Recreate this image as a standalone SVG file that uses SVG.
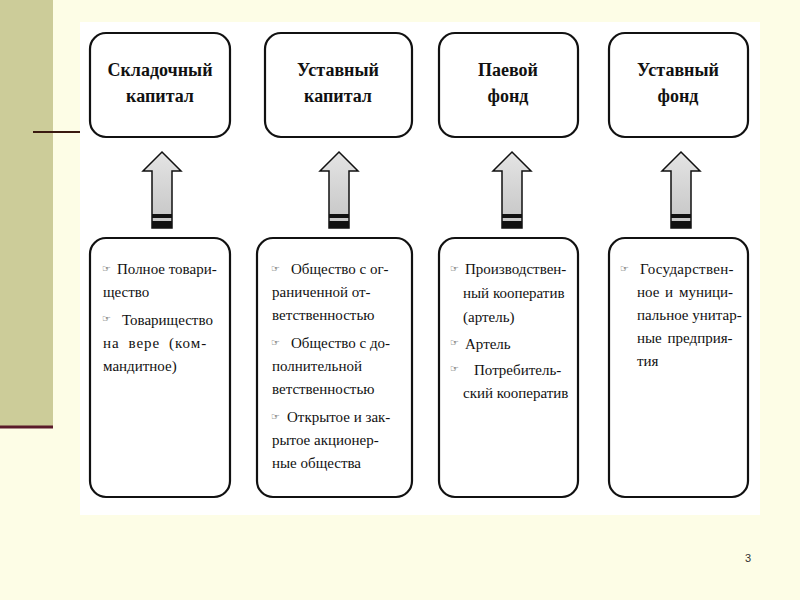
<svg xmlns="http://www.w3.org/2000/svg" width="800" height="600" viewBox="0 0 800 600">
<style>
.box{fill:#fff;stroke:#111;stroke-width:2.2}
.h{font-family:"Liberation Serif",serif;font-weight:bold;font-size:18px;text-anchor:middle;fill:#111}
.t{font-family:"Liberation Serif",serif;font-size:15px;fill:#111}
.b{font-family:"DejaVu Sans",sans-serif;font-size:10px;fill:#333}
.ar{fill:url(#g);stroke:#111;stroke-width:1.5}
</style>
<defs>
<linearGradient id="g" x1="0" y1="0" x2="0" y2="1"><stop offset="0" stop-color="#e4e4e4"/><stop offset="1" stop-color="#c4c4c4"/></linearGradient>
<g id="arrow">
<path class="ar" d="M0,0 L19,19 L10,19 L10,76 L-10,76 L-10,19 L-19,19 Z"/>
<rect x="-10" y="62" width="20" height="4" fill="#111"/>
<rect x="-10" y="69" width="20" height="7" fill="#111"/>
</g>
</defs>
<rect width="800" height="600" fill="#fdfde6"/>
<rect width="53" height="427" fill="#cccc99"/>
<line x1="0" y1="427" x2="53" y2="427" stroke="#5a1a2a" stroke-width="3"/>
<rect x="80" y="22" width="680" height="493" fill="#fff"/>
<line x1="33" y1="132" x2="80" y2="132" stroke="#3a1a10" stroke-width="2"/>
<g id="connectors">
<use href="#arrow" x="162" y="152"/>
<use href="#arrow" x="339" y="152"/>
<use href="#arrow" x="512" y="152"/>
<use href="#arrow" x="681" y="152"/>
</g>
<g id="top1"><rect class="box" x="90" y="33" width="140" height="104" rx="16"/><text class="h" x="160" y="76">Складочный</text><text class="h" x="160" y="102">капитал</text></g>
<g id="top2"><rect class="box" x="265" y="33" width="147" height="104" rx="16"/><text class="h" x="338" y="76">Уставный</text><text class="h" x="338" y="102">капитал</text></g>
<g id="top3"><rect class="box" x="439" y="33" width="139" height="104" rx="16"/><text class="h" x="508" y="76">Паевой</text><text class="h" x="508" y="102">фонд</text></g>
<g id="top4"><rect class="box" x="609" y="33" width="139" height="104" rx="16"/><text class="h" x="678" y="76">Уставный</text><text class="h" x="678" y="102">фонд</text></g>
<g id="bot1"><rect class="box" x="90" y="238" width="140" height="259" rx="16"/>
<text class="b" x="102" y="272">☞</text><text class="t" x="117" y="274">Полное товари-</text>
<text class="t" x="103" y="297">щество</text>
<text class="b" x="102" y="322">☞</text><text class="t" x="122" y="325">Товарищество</text>
<text class="t" x="103" y="348" word-spacing="4" letter-spacing="1">на вере (ком-</text>
<text class="t" x="103" y="371">мандитное)</text></g>
<g id="bot2"><rect class="box" x="257" y="238" width="155" height="259" rx="16"/>
<text class="b" x="271" y="272">☞</text><text class="t" x="291" y="274">Общество с ог-</text>
<text class="t" x="272" y="297">раниченной от-</text>
<text class="t" x="272" y="320">ветственностью</text>
<text class="b" x="271" y="346">☞</text><text class="t" x="291" y="348">Общество с до-</text>
<text class="t" x="272" y="371">полнительной</text>
<text class="t" x="272" y="394">ветственностью</text>
<text class="b" x="271" y="420">☞</text><text class="t" x="287" y="422">Открытое и зак-</text>
<text class="t" x="272" y="445">рытое акционер-</text>
<text class="t" x="272" y="468">ные общества</text></g>
<g id="bot3"><rect class="box" x="439" y="238" width="139" height="259" rx="16"/>
<text class="b" x="450" y="272">☞</text><text class="t" x="465" y="274">Производствен-</text>
<text class="t" x="463" y="298">ный кооператив</text>
<text class="t" x="463" y="322">(артель)</text>
<text class="b" x="450" y="346">☞</text><text class="t" x="465" y="349">Артель</text>
<text class="b" x="450" y="372">☞</text><text class="t" x="474" y="375">Потребитель-</text>
<text class="t" x="463" y="398">ский кооператив</text></g>
<g id="bot4"><rect class="box" x="609" y="238" width="139" height="259" rx="16"/>
<text class="b" x="620" y="272">☞</text><text class="t" x="640" y="274" letter-spacing="0.3">Государствен-</text>
<text class="t" x="637" y="297" word-spacing="2">ное и муници-</text>
<text class="t" x="637" y="320">пальное унитар-</text>
<text class="t" x="637" y="343" word-spacing="2">ные предприя-</text>
<text class="t" x="637" y="366">тия</text></g>
<text x="748" y="562" font-family="Liberation Sans,sans-serif" font-size="11" fill="#333" text-anchor="middle">3</text>
</svg>
